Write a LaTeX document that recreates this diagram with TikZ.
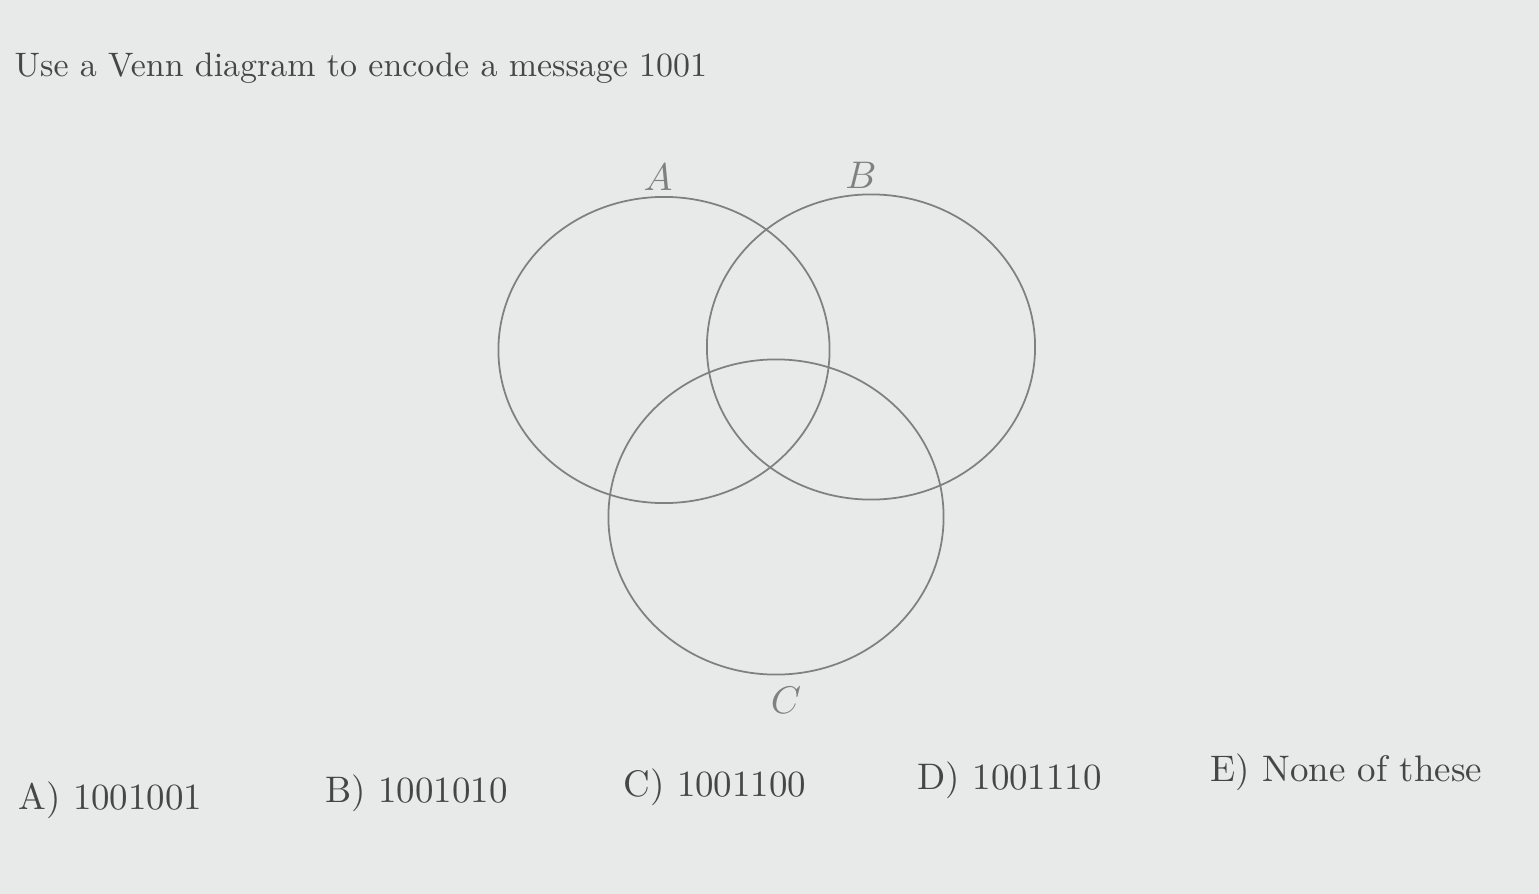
\documentclass[tikz,border=0pt]{standalone}
\usepackage{amssymb,latexsym}
\usepackage{tikz}
\usetikzlibrary{shapes.geometric,positioning}

\definecolor{screen}{RGB}{232,233,233}
\definecolor{ink}{RGB}{70,70,70}
\definecolor{rim}{RGB}{128,128,128}

\tikzset{
  vennset/.style={ellipse, draw=rim, line width=0.5pt, inner sep=0pt},
  setname/.style={text=rim, font=\fontsize{10.5}{13}\selectfont},
  question/.style={text=ink, anchor=west, inner sep=0pt, font=\fontsize{9.65}{12}\selectfont},
  choice/.style={text=ink, anchor=west, inner sep=0pt, font=\fontsize{10.5}{13}\selectfont}
}

\begin{document}
\begin{tikzpicture}[x=0.01cm, y=-0.01cm]
  \fill[screen] (0,0) rectangle (1539,894);
  \useasboundingbox (0,0) rectangle (1539,894);

  \node[question] (title) at (14,68) {Use a Venn diagram to encode a message 1001};

  \node[vennset, minimum width=3.31cm, minimum height=3.06cm] (setA) at (664,350) {};
  \node[vennset, minimum width=3.28cm, minimum height=3.05cm] (setB) at (871,347) {};
  \node[vennset, minimum width=3.35cm, minimum height=3.15cm] (setC) at (776,517) {};

  \node[setname] (nameA) at (658,177) {$A$};
  \node[setname] (nameB) at (861,175) {$B$};
  \node[setname] (nameC) at (786,700) {$C$};

  \node[choice] (optA) at (18,800) {A) 1001001};
  \node[choice] (optB) at (325,793) {B) 1001010};
  \node[choice] (optC) at (623,787) {C) 1001100};
  \node[choice] (optD) at (917,780) {D) 1001110};
  \node[choice] (optE) at (1210,772) {E) None of these};
\end{tikzpicture}
\end{document}
